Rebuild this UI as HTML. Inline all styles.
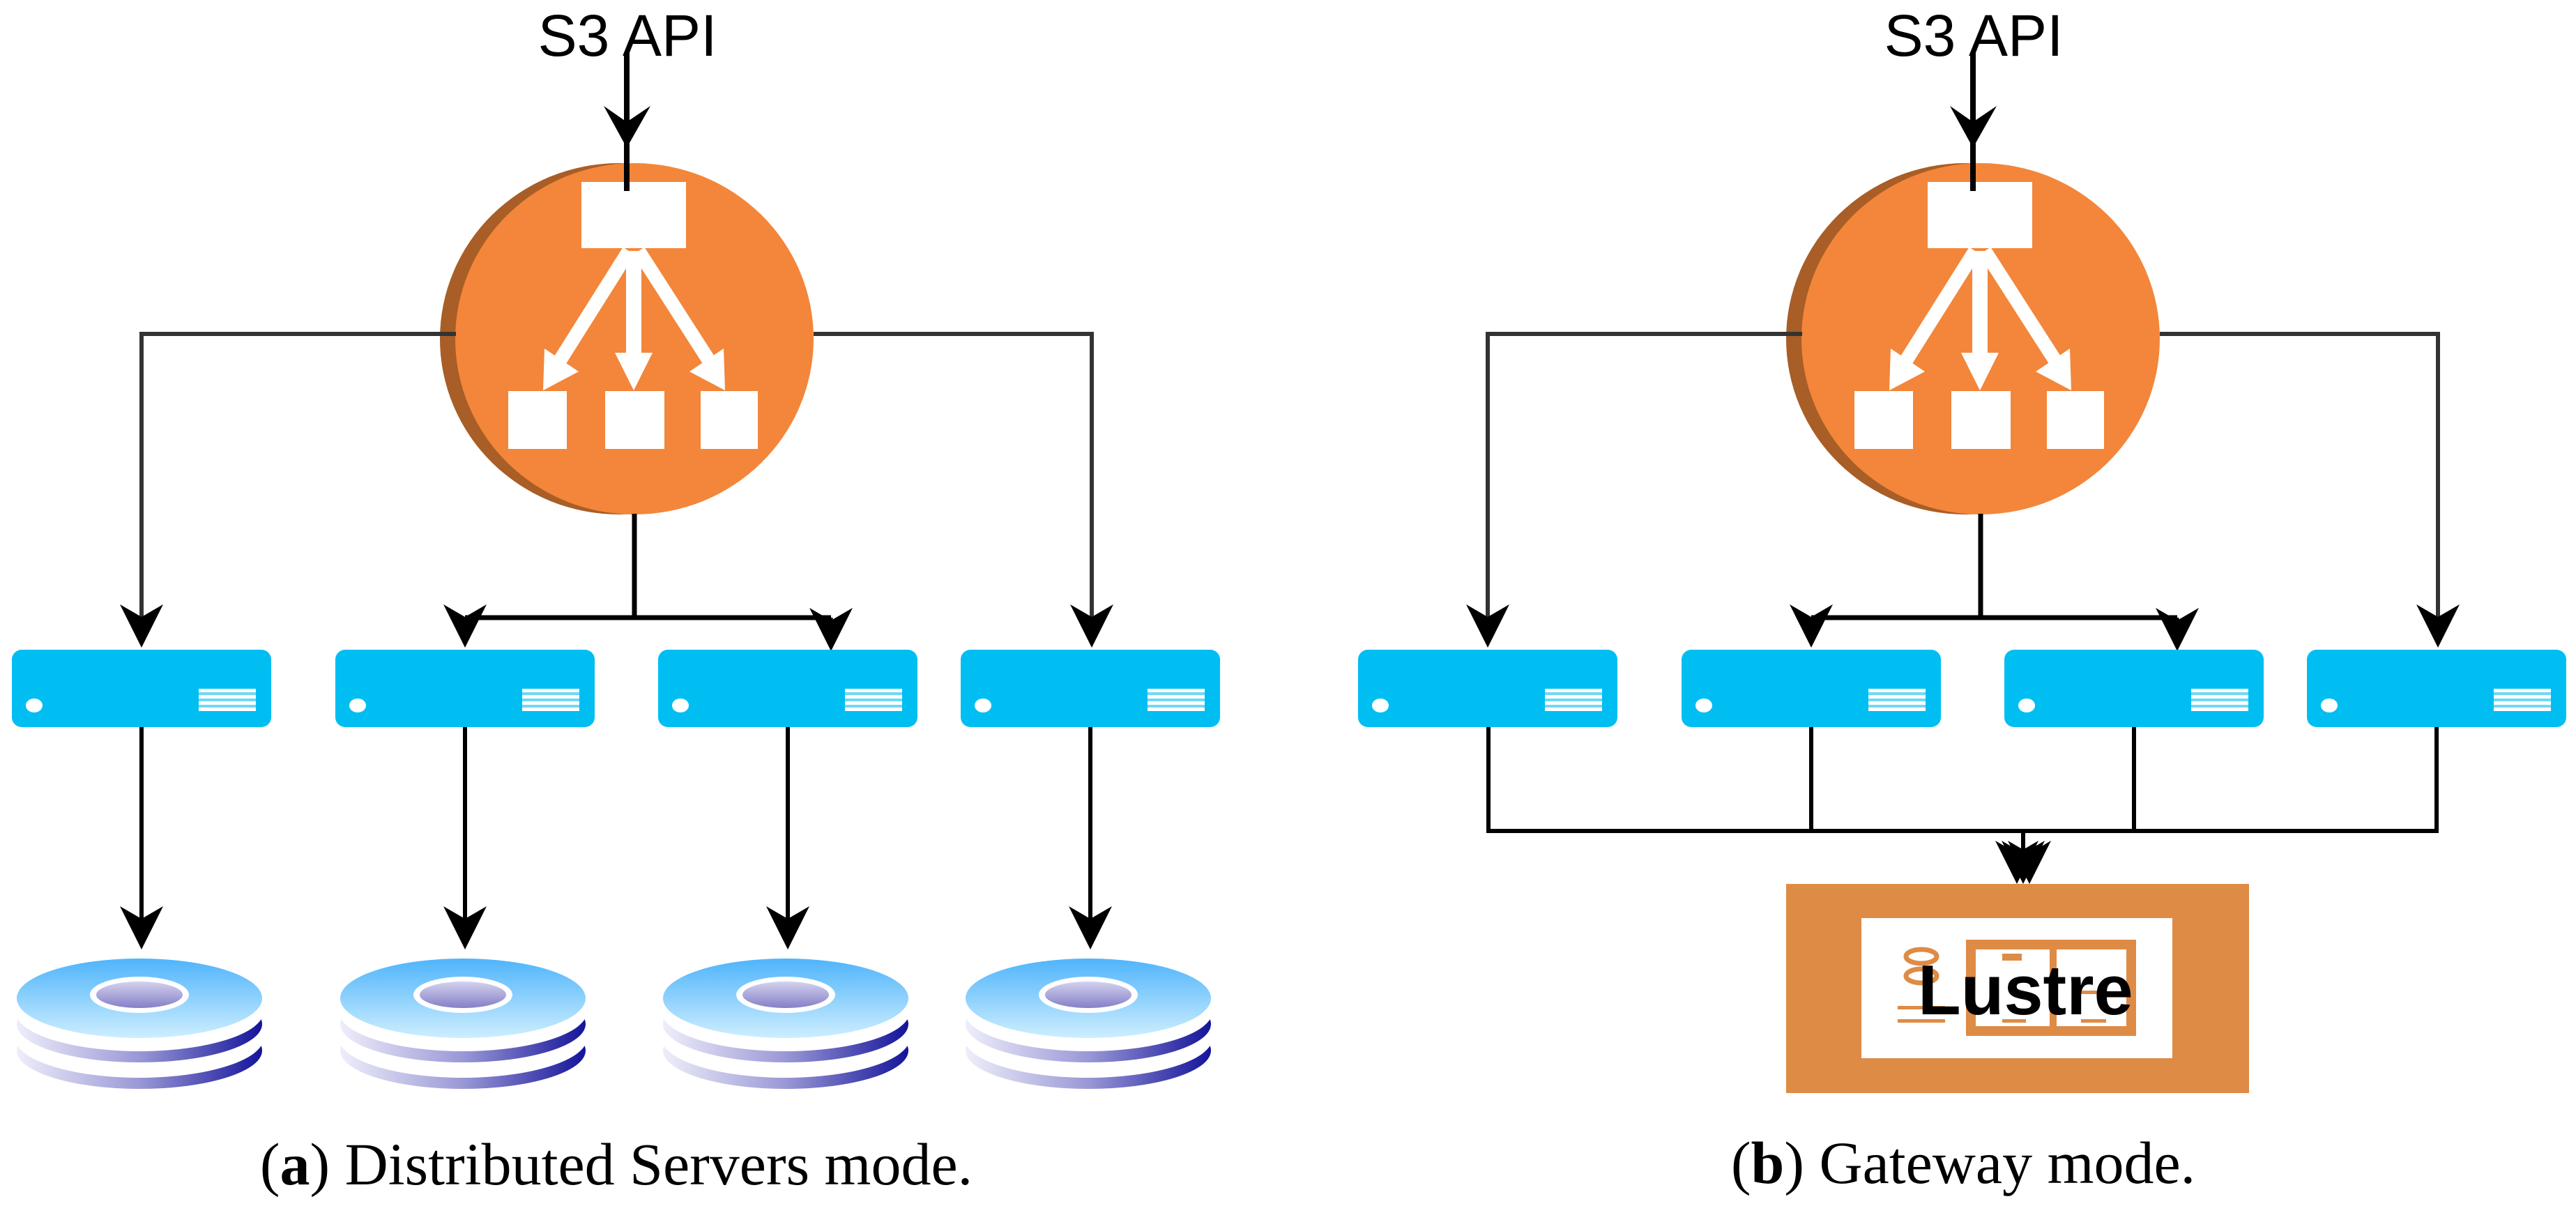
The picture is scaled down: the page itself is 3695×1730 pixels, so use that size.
<!DOCTYPE html>
<html><head><meta charset="utf-8"><style>
html,body{margin:0;padding:0;background:#fff;}
svg{display:block;}
</style></head><body>
<svg width="3695" height="1730" viewBox="0 0 3695 1730" xmlns="http://www.w3.org/2000/svg">
<defs>
<linearGradient id="dtop" x1="0" y1="0" x2="0" y2="1"><stop offset="0" stop-color="#4fb4fb"/><stop offset="1" stop-color="#cdeeff"/></linearGradient>
<linearGradient id="dside" x1="0" y1="0" x2="1" y2="0"><stop offset="0" stop-color="#eeeefa"/><stop offset="0.5" stop-color="#9a98d6"/><stop offset="1" stop-color="#14149a"/></linearGradient>
<linearGradient id="dhole" x1="0" y1="0" x2="0" y2="1"><stop offset="0" stop-color="#d4d2ee"/><stop offset="1" stop-color="#8480c8"/></linearGradient>
<g id="ah"><path d="M0,0 L-31,-62 L0,-44 L31,-62 Z" fill="#000"/></g>
<g id="srv">
<rect x="0" y="0" width="372" height="111" rx="14" fill="#00bef2"/>
<ellipse cx="32" cy="80" rx="12" ry="10" fill="#fff"/>
<rect x="268" y="56" width="82" height="32" fill="#6fd8f6"/>
<rect x="268" y="56" width="82" height="5" fill="#fff"/>
<rect x="268" y="65" width="82" height="5" fill="#fff"/>
<rect x="268" y="74" width="82" height="5" fill="#fff"/>
<rect x="268" y="83" width="82" height="5" fill="#fff"/>
</g>
<g id="disk">
<ellipse cx="0" cy="132" rx="176" ry="55" fill="url(#dside)"/>
<ellipse cx="0" cy="114" rx="178" ry="57" fill="#fff"/>
<ellipse cx="0" cy="94" rx="176" ry="55" fill="url(#dside)"/>
<ellipse cx="0" cy="76" rx="178" ry="57" fill="#fff"/>
<ellipse cx="0" cy="57" rx="176" ry="57" fill="url(#dtop)"/>
<ellipse cx="0" cy="52" rx="71" ry="26" fill="#fff"/>
<ellipse cx="0" cy="52" rx="62" ry="19" fill="url(#dhole)"/>
</g>
<g id="lb">
<ellipse cx="888" cy="486" rx="257" ry="252" fill="#a85e26"/>
<ellipse cx="910" cy="486" rx="257" ry="252" fill="#f3863a"/>
<rect x="834" y="261" width="150" height="95" fill="#fff"/>
<rect x="729" y="561" width="84" height="83" fill="#fff"/>
<rect x="868" y="561" width="85" height="83" fill="#fff"/>
<rect x="1005" y="561" width="82" height="83" fill="#fff"/>
<line x1="909" y1="360" x2="909" y2="510" stroke="#fff" stroke-width="22"/>
<path d="M882,506 L936,506 L909,560 Z" fill="#fff"/>
<line x1="902" y1="360" x2="800" y2="522" stroke="#fff" stroke-width="20"/>
<path d="M781,500 L779,560 L830,533 Z" fill="#fff"/>
<line x1="916" y1="360" x2="1020" y2="522" stroke="#fff" stroke-width="20"/>
<path d="M1038,500 L1040,560 L989,533 Z" fill="#fff"/>
</g>
<g id="top">
<text x="900" y="80" font-family="Liberation Sans, sans-serif" font-size="84" text-anchor="middle" fill="#000">S3 API</text>
<use href="#lb"/>
<line x1="899" y1="75" x2="899" y2="274" stroke="#000" stroke-width="8"/>
<path d="M899,212 L866,152 L899,175 L933,152 Z" fill="#000"/>
<polyline points="654,479 203,479 203,900" fill="none" stroke="#333" stroke-width="6"/>
<polyline points="1167,479 1566,479 1566,900" fill="none" stroke="#333" stroke-width="6"/>
<use href="#ah" x="203" y="929"/>
<use href="#ah" x="1566" y="929"/>
<line x1="910" y1="737" x2="910" y2="886" stroke="#000" stroke-width="7"/>
<line x1="667" y1="886" x2="1192" y2="886" stroke="#000" stroke-width="7"/>
<line x1="667" y1="886" x2="667" y2="905" stroke="#000" stroke-width="5"/>
<line x1="1192" y1="886" x2="1192" y2="905" stroke="#000" stroke-width="5"/>
<use href="#ah" x="667" y="929"/>
<use href="#ah" x="1192" y="934"/>
<use href="#srv" x="17" y="932"/>
<use href="#srv" x="481" y="932"/>
<use href="#srv" x="944" y="932"/>
<use href="#srv" x="1378" y="932"/>
</g>
</defs>

<use href="#top"/>
<g stroke="#000" stroke-width="6">
<line x1="203" y1="1043" x2="203" y2="1330"/>
<line x1="667" y1="1043" x2="667" y2="1330"/>
<line x1="1130" y1="1043" x2="1130" y2="1330"/>
<line x1="1564" y1="1043" x2="1564" y2="1330"/>
</g>
<use href="#ah" x="203" y="1362"/>
<use href="#ah" x="667" y="1362"/>
<use href="#ah" x="1130" y="1362"/>
<use href="#ah" x="1564" y="1362"/>
<use href="#disk" x="200" y="1375"/>
<use href="#disk" x="664" y="1375"/>
<use href="#disk" x="1127" y="1375"/>
<use href="#disk" x="1561" y="1375"/>
<text x="884" y="1699" font-family="Liberation Serif, serif" font-size="86" text-anchor="middle" fill="#000">(<tspan font-weight="bold">a</tspan>) Distributed Servers mode.</text>

<use href="#top" x="1931"/>
<g fill="none" stroke="#000" stroke-width="6">
<polyline points="2135,1043 2135,1192 3495,1192 3495,1043"/>
<line x1="2598" y1="1043" x2="2598" y2="1192"/>
<line x1="3061" y1="1043" x2="3061" y2="1192"/>
<line x1="2902" y1="1192" x2="2902" y2="1230"/>
</g>
<use href="#ah" x="2893" y="1268"/>
<use href="#ah" x="2911" y="1268"/>
<use href="#ah" x="2902" y="1268"/>
<rect x="2562" y="1268" width="664" height="300" fill="#de8b45"/>
<rect x="2670" y="1317" width="446" height="201" fill="#fff"/>
<rect x="2827" y="1355" width="230" height="124" fill="none" stroke="#de8b45" stroke-width="14"/>
<rect x="2940" y="1350" width="10" height="132" fill="#de8b45"/>
<ellipse cx="2756" cy="1372" rx="22" ry="10" fill="none" stroke="#de8b45" stroke-width="7"/>
<ellipse cx="2756" cy="1400" rx="22" ry="10" fill="none" stroke="#de8b45" stroke-width="7"/>
<rect x="2722" y="1443" width="68" height="5" fill="#de8b45"/>
<rect x="2722" y="1462" width="68" height="5" fill="#de8b45"/>
<rect x="2872" y="1368" width="28" height="10" fill="#de8b45"/>
<rect x="2872" y="1462" width="34" height="5" fill="#de8b45"/>
<rect x="2985" y="1462" width="36" height="5" fill="#de8b45"/>
<rect x="2985" y="1421" width="36" height="5" fill="#de8b45"/>
<text x="2751" y="1455" font-family="Liberation Sans, sans-serif" font-size="101" font-weight="bold" fill="#000">Lustre</text>
<text x="2816" y="1697" font-family="Liberation Serif, serif" font-size="86" text-anchor="middle" fill="#000">(<tspan font-weight="bold">b</tspan>) Gateway mode.</text>
</svg>
</body></html>
